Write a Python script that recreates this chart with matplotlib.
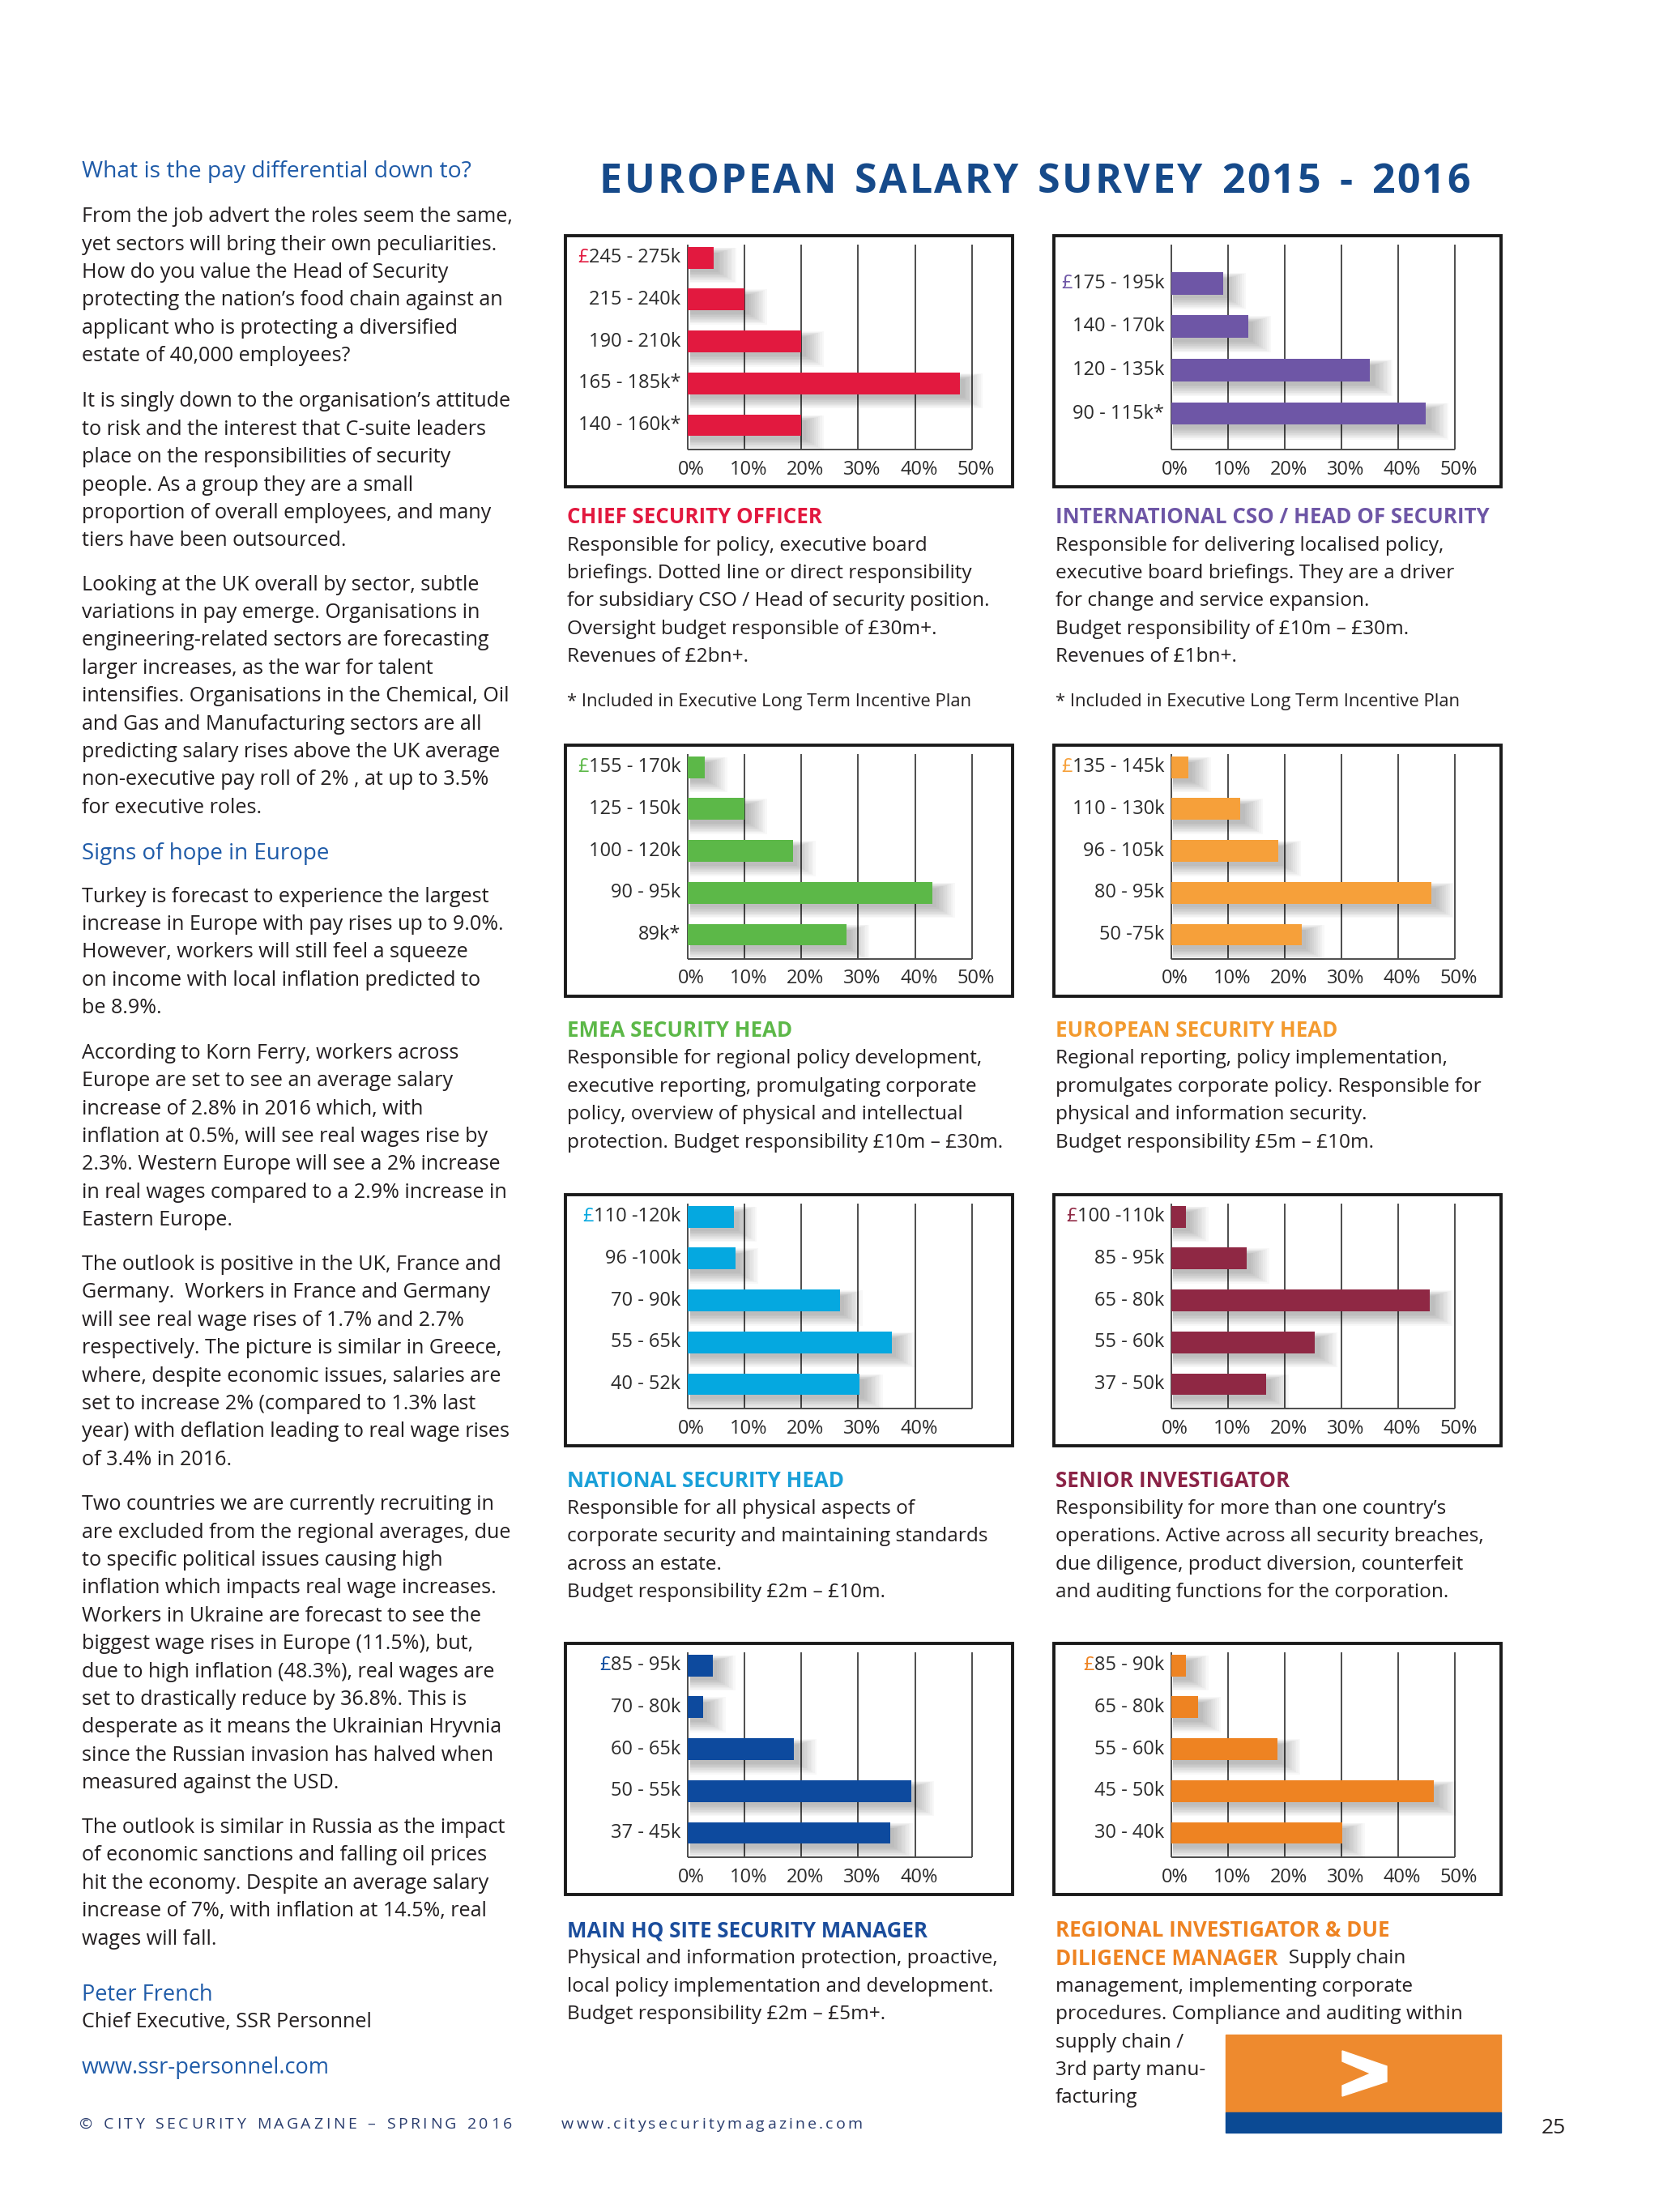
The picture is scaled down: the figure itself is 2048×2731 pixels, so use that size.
import matplotlib
matplotlib.use('Agg')
import matplotlib.pyplot as plt
from matplotlib.patches import Rectangle, Polygon
from matplotlib.transforms import ScaledTranslation

plt.rcParams['font.family'] = ['Open Sans', 'DejaVu Sans']

W, H = 2048, 2731
fig = plt.figure(figsize=(W / 100, H / 100), dpi=100)
fig.patch.set_facecolor('white')

TEXT = '#231f20'
BLUE = '#1f5ba8'

# ---- chart data (share of respondents, %) ----
cso_labels = ['245 - 275k', '215 - 240k', '190 - 210k', '165 - 185k*', '140 - 160k*']
cso_values = [4.6, 10, 20, 47.9, 20]
intl_labels = ['175 - 195k', '140 - 170k', '120 - 135k', '90 - 115k*']
intl_values = [9.2, 13.6, 35, 44.9]
emea_labels = ['155 - 170k', '125 - 150k', '100 - 120k', '90 - 95k', '89k*']
emea_values = [3, 10, 18.5, 43, 28]
euro_labels = ['135 - 145k', '110 - 130k', '96 - 105k', '80 - 95k', '50 -75k']
euro_values = [3, 12.2, 18.9, 45.9, 23]
national_labels = ['110 -120k', '96 -100k', '70 - 90k', '55 - 65k', '40 - 52k']
national_values = [8.2, 8.5, 26.8, 35.9, 30.3]
senior_labels = ['100 -110k', '85 - 95k', '65 - 80k', '55 - 60k', '37 - 50k']
senior_values = [2.6, 13.3, 45.6, 25.3, 16.8]
hq_labels = ['85 - 95k', '70 - 80k', '60 - 65k', '50 - 55k', '37 - 45k']
hq_values = [4.4, 2.7, 18.7, 39.4, 35.6]
regional_labels = ['85 - 90k', '65 - 80k', '55 - 60k', '45 - 50k', '30 - 40k']
regional_values = [2.6, 4.8, 18.8, 46.3, 30.1]

grid_ticks = [0, 10, 20, 30, 40, 50]
tick_labels = ['0%', '10%', '20%', '30%', '40%', '50%']


def fx(px):
    return px / W


def fy(py):
    return 1 - py / H


def lines(x, y, rows, size=17.6, color=TEXT, weight='normal', step=34.4):
    for i, s in enumerate(rows):
        fig.text(fx(x), fy(y + i * step), s, fontsize=size, color=color,
                 fontweight=weight, va='center_baseline')


def tracked(x, y, s, width, size, color, weight='normal'):
    r = fig.canvas.get_renderer()
    kw = {'fontsize': size, 'fontweight': weight}
    widths = []
    for ch in s:
        t = fig.text(0, 0, 'n' if ch == ' ' else ch, **kw)
        w = t.get_window_extent(r).width
        if ch == ' ':
            w *= 0.55
        widths.append(w)
        t.remove()
    gap = (width - sum(widths)) / (len(s) - 1)
    px = x
    for ch, w in zip(s, widths):
        fig.text(fx(px), fy(y), ch, color=color, va='center_baseline', **kw)
        px += w + gap


box_x = [698, 1301]
box_y = [291, 920, 1475, 2029]
box_w, box_h = 552, 310
inner = [(0.273, 0.909), (0.262, 0.897)]
LBL = 17


def bar_panel(col, row, labels, values, color, last_label=50):
    bx, by = box_x[col], box_y[row]
    fig.patches.append(Rectangle((fx(bx), fy(by + box_h)), box_w / W, box_h / H,
                                 transform=fig.transFigure, fill=False,
                                 edgecolor='#1a1a1a', lw=2.8))
    l, r = inner[col]
    top, bot = by + 10.5, by + 264
    ax = fig.add_axes([fx(bx + l * box_w), fy(bot), (r - l) * box_w / W, (bot - top) / H])
    n = len(labels)
    ys = list(range(n))
    if n == 5:
        ylim = (4.58, -0.32)
    else:
        ylim = (3.83, -0.9)
    ax.set_ylim(*ylim)
    ax.set_xlim(0, 50)
    ax.vlines(grid_ticks, ylim[0], ylim[1], colors='#4d4d4d', lw=1.4, zorder=1, clip_on=False)
    ax.hlines(ylim[0], 0, 50, colors='#4d4d4d', lw=1.4, zorder=1, clip_on=False)
    # soft drop shadow
    for k in range(10):
        g = k / 9
        ax.barh([y + 0.12 + 0.06 * g for y in ys], [v + 0.4 + 3.2 * g for v in values],
                height=0.46 + 0.38 * g, left=0.4, color='black', alpha=0.028,
                zorder=2, clip_on=False)
    ax.barh(ys, values, height=0.52, color=color, zorder=3)
    for s in ax.spines.values():
        s.set_visible(False)
    ax.set_yticks([])
    shown = [t for t in grid_ticks if t <= last_label]
    ax.set_xticks(shown)
    ax.set_xticklabels(tick_labels[:len(shown)], fontsize=LBL, color='#2b2b2b')
    ax.tick_params(axis='x', length=0, pad=9)
    for lbl in ax.get_xticklabels():
        lbl.set_transform(lbl.get_transform() + ScaledTranslation(0.05, 0, fig.dpi_scale_trans))
    for y, lab in zip(ys, labels):
        t = ax.text(-1.2, y, lab, ha='right', va='center', fontsize=LBL, color='#2b2b2b')
        if y == 0:
            ax.annotate('£', xy=(0, 0.5), xycoords=t, ha='right', va='center',
                        fontsize=LBL, color=color)
    ax.patch.set_alpha(0)
    return ax


# ---- title ----
tracked(740, 219, 'EUROPEAN SALARY SURVEY 2015 - 2016', 1075, 36, '#164a8a', 'bold')

# ---- left column ----
lx = 101
BS = 18.1
lines(lx, 209, ['What is the pay differential down to?'], 20.3, BLUE)
lines(lx, 264.7, ['From the job advert the roles seem the same,',
                  'yet sectors will bring their own peculiarities.',
                  'How do you value the Head of Security',
                  'protecting the nation’s food chain against an',
                  'applicant who is protecting a diversified',
                  'estate of 40,000 employees?'], BS)
lines(lx, 492.8, ['It is singly down to the organisation’s attitude',
                  'to risk and the interest that C-suite leaders',
                  'place on the responsibilities of security',
                  'people. As a group they are a small',
                  'proportion of overall employees, and many',
                  'tiers have been outsourced.'], BS)
lines(lx, 719.2, ['Looking at the UK overall by sector, subtle',
                  'variations in pay emerge. Organisations in',
                  'engineering-related sectors are forecasting',
                  'larger increases, as the war for talent',
                  'intensifies. Organisations in the Chemical, Oil',
                  'and Gas and Manufacturing sectors are all',
                  'predicting salary rises above the UK average',
                  'non-executive pay roll of 2% , at up to 3.5%',
                  'for executive roles.'], BS)
lines(lx, 1050.1, ['Signs of hope in Europe'], 20, BLUE)
lines(lx, 1104.1, ['Turkey is forecast to experience the largest',
                   'increase in Europe with pay rises up to 9.0%.',
                   'However, workers will still feel a squeeze',
                   'on income with local inflation predicted to',
                   'be 8.9%.'], BS)
lines(lx, 1297.4, ['According to Korn Ferry, workers across',
                   'Europe are set to see an average salary',
                   'increase of 2.8% in 2016 which, with',
                   'inflation at 0.5%, will see real wages rise by',
                   '2.3%. Western Europe will see a 2% increase',
                   'in real wages compared to a 2.9% increase in',
                   'Eastern Europe.'], BS)
lines(lx, 1558.6, ['The outlook is positive in the UK, France and',
                   'Germany.  Workers in France and Germany',
                   'will see real wage rises of 1.7% and 2.7%',
                   'respectively. The picture is similar in Greece,',
                   'where, despite economic issues, salaries are',
                   'set to increase 2% (compared to 1.3% last',
                   'year) with deflation leading to real wage rises',
                   'of 3.4% in 2016.'], BS)
lines(lx, 1854.7, ['Two countries we are currently recruiting in',
                   'are excluded from the regional averages, due',
                   'to specific political issues causing high',
                   'inflation which impacts real wage increases.',
                   'Workers in Ukraine are forecast to see the',
                   'biggest wage rises in Europe (11.5%), but,',
                   'due to high inflation (48.3%), real wages are',
                   'set to drastically reduce by 36.8%. This is',
                   'desperate as it means the Ukrainian Hryvnia',
                   'since the Russian invasion has halved when',
                   'measured against the USD.'], BS)
lines(lx, 2253.5, ['The outlook is similar in Russia as the impact',
                   'of economic sanctions and falling oil prices',
                   'hit the economy. Despite an average salary',
                   'increase of 7%, with inflation at 14.5%, real',
                   'wages will fall.'], BS)
lines(lx, 2459, ['Peter French'], 19.5, BLUE)
lines(lx, 2493.8, ['Chief Executive, SSR Personnel'], BS)
lines(lx, 2549.6, ['www.ssr-personnel.com'], 19.5, BLUE)

# ---- charts ----
bar_panel(0, 0, cso_labels, cso_values, '#e2193f')
bar_panel(1, 0, intl_labels, intl_values, '#6e56a6')
bar_panel(0, 1, emea_labels, emea_values, '#5cb848')
bar_panel(1, 1, euro_labels, euro_values, '#f6a03a')
bar_panel(0, 2, national_labels, national_values, '#05a8e0', last_label=40)
bar_panel(1, 2, senior_labels, senior_values, '#8f2844')
bar_panel(0, 3, hq_labels, hq_values, '#0d4a9e', last_label=40)
last_ax = bar_panel(1, 3, regional_labels, regional_values, '#ee8322')

# ---- captions ----
c1, c2 = 700, 1303
HS = 18.6
CS = 17.6
lines(c1, 635.6, ['CHIEF SECURITY OFFICER'], HS, '#e2193f', 'bold')
lines(c1, 670.5, ['Responsible for policy, executive board',
                  'briefings. Dotted line or direct responsibility',
                  'for subsidiary CSO / Head of security position.',
                  'Oversight budget responsible of £30m+.',
                  'Revenues of £2bn+.'], CS)
lines(c1, 863.8, ['* Included in Executive Long Term Incentive Plan'], 15.8)
lines(c2, 635.6, ['INTERNATIONAL CSO / HEAD OF SECURITY'], HS, '#6e56a6', 'bold')
lines(c2, 670.5, ['Responsible for delivering localised policy,',
                  'executive board briefings. They are a driver',
                  'for change and service expansion.',
                  'Budget responsibility of £10m – £30m.',
                  'Revenues of £1bn+.'], CS)
lines(c2, 863.8, ['* Included in Executive Long Term Incentive Plan'], 15.8)

lines(c1, 1269.6, ['EMEA SECURITY HEAD'], HS, '#5cb848', 'bold')
lines(c1, 1304.4, ['Responsible for regional policy development,',
                   'executive reporting, promulgating corporate',
                   'policy, overview of physical and intellectual',
                   'protection. Budget responsibility £10m – £30m.'], CS)
lines(c2, 1269.6, ['EUROPEAN SECURITY HEAD'], HS, '#f39a2e', 'bold')
lines(c2, 1304.4, ['Regional reporting, policy implementation,',
                   'promulgates corporate policy. Responsible for',
                   'physical and information security.',
                   'Budget responsibility £5m – £10m.'], CS)

lines(c1, 1825.1, ['NATIONAL SECURITY HEAD'], HS, '#1aa0d8', 'bold')
lines(c1, 1859.9, ['Responsible for all physical aspects of',
                   'corporate security and maintaining standards',
                   'across an estate.',
                   'Budget responsibility £2m – £10m.'], CS)
lines(c2, 1825.1, ['SENIOR INVESTIGATOR'], HS, '#8b2346', 'bold')
lines(c2, 1859.9, ['Responsibility for more than one country’s',
                   'operations. Active across all security breaches,',
                   'due diligence, product diversion, counterfeit',
                   'and auditing functions for the corporation.'], CS)

lines(c1, 2380.6, ['MAIN HQ SITE SECURITY MANAGER'], HS, '#1b4d9c', 'bold')
lines(c1, 2415.5, ['Physical and information protection, proactive,',
                   'local policy implementation and development.',
                   'Budget responsibility £2m – £5m+.'], CS)
lines(c2, 2380.6, ['REGIONAL INVESTIGATOR & DUE'], HS, '#ee8322', 'bold')
t = fig.text(fx(c2), fy(2415.5), 'DILIGENCE MANAGER', fontsize=HS, color='#ee8322',
             fontweight='bold', va='center_baseline')
last_ax.annotate('  Supply chain', xy=(1, fy(2415.5)), xycoords=(t, 'figure fraction'),
                 fontsize=CS, color=TEXT, va='center_baseline', annotation_clip=False)
lines(c2, 2449.9, ['management, implementing corporate',
                   'procedures. Compliance and auditing within',
                   'supply chain /',
                   '3rd party manu-',
                   'facturing'], CS)

# ---- corner arrow box ----
fig.patches.append(Rectangle((fx(1513), fy(2608)), (1853 - 1513) / W, (2608 - 2512) / H,
                             transform=fig.transFigure, color='#ee8a2e'))
fig.patches.append(Rectangle((fx(1513), fy(2633)), (1853 - 1513) / W, (2633 - 2608) / H,
                             transform=fig.transFigure, color='#0b4a94'))
chev = [(1657, 2532), (1712, 2551), (1712, 2570), (1657, 2588), (1657, 2575),
        (1692, 2560), (1657, 2545)]
fig.patches.append(Polygon([(fx(a), fy(b)) for a, b in chev], closed=True,
                           transform=fig.transFigure, color='white'))

# ---- footer ----
tracked(98, 2621, '© CITY SECURITY MAGAZINE – SPRING 2016', 534, 14, '#2a3d6e')
tracked(693, 2621, 'www.citysecuritymagazine.com', 372, 14, '#2a3d6e')
fig.text(fx(1903), fy(2625), '25', fontsize=19, color=TEXT, va='center_baseline')

fig.savefig('out.png', dpi=100, facecolor='white')
